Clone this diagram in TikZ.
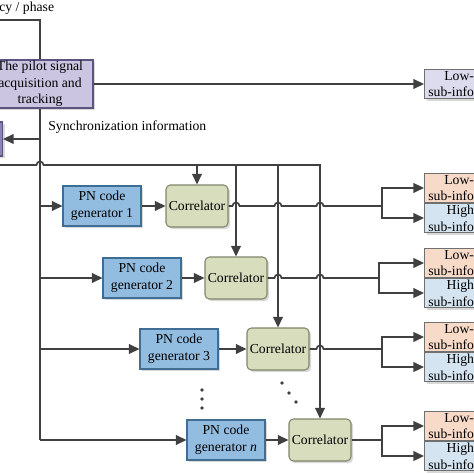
\documentclass[tikz,border=0pt]{standalone}
\usepackage{fontspec}
\setmainfont{Liberation Serif}
\usetikzlibrary{arrows.meta,shadows}

\definecolor{linec}{HTML}{404040}
\definecolor{pilotc}{HTML}{CBC5E2}
\definecolor{pilotd}{HTML}{5C5480}
\definecolor{lavc}{HTML}{DCDCEE}
\definecolor{syncc}{HTML}{8C84AC}
\definecolor{genc}{HTML}{93BDE0}
\definecolor{gend}{HTML}{3F6D94}
\definecolor{corrc}{HTML}{D7DDBD}
\definecolor{corrd}{HTML}{7F866A}
\definecolor{lowc}{HTML}{F7DAC8}
\definecolor{highc}{HTML}{D4E4F1}
\definecolor{boxd}{HTML}{707070}

\tikzset{
  wire/.style={draw=linec, line width=0.95pt},
  arr/.style={wire, -{Triangle[length=6pt,width=5.5pt]}},
  shade box/.style={line width=0.6pt, drop shadow={shadow xshift=1.2pt, shadow yshift=-1.2pt, opacity=0.3}},
  pilot/.style={shade box, draw=pilotd, fill=pilotc, minimum width=2.12cm, minimum height=0.96cm, align=center, inner sep=0pt},
  syncbox/.style={shade box, draw=pilotd, fill=syncc, minimum width=0.6cm, minimum height=0.68cm},
  gen/.style={shade box, draw=gend, fill=genc, minimum width=1.56cm, minimum height=0.8cm, align=center, inner sep=0pt},
  corr/.style={shade box, draw=corrd, fill=corrc, rounded corners=2.5pt, minimum width=1.24cm, minimum height=0.84cm, inner sep=0pt},
  subbox/.style={shade box, draw=boxd, text width=0.92cm, align=right, inner xsep=2pt, inner ysep=0.5pt, minimum height=0.58cm},
  lowbox/.style={subbox, fill=lowc},
  highbox/.style={subbox, fill=highc}
}

\begin{document}
\begin{tikzpicture}[x=0.02cm, y=-0.02cm, font=\fontsize{7.8}{9.5}\selectfont]
\useasboundingbox (0,0) rectangle (474,474);
\clip (0,0) rectangle (474,474);

% blocks
\node[pilot] (pilot) at (40,84) {The pilot signal\\acquisition and\\tracking};
\node[syncbox, anchor=east] (sync) at (3,139) {};
\node[subbox, fill=lavc, anchor=west] (lo0) at (424,84) {Low-\\sub-info};

\node[gen] (g1) at (102,206) {PN code\\generator 1};
\node[gen] (g2) at (142,278) {PN code\\generator 2};
\node[gen] (g3) at (179,349) {PN code\\generator 3};
\node[gen] (gn) at (226,440) {PN code\\generator \textit{n}};

\node[corr] (c1) at (197,206) {Correlator};
\node[corr] (c2) at (236,278) {Correlator};
\node[corr] (c3) at (278,349) {Correlator};
\node[corr] (cn) at (320,440) {Correlator};

\foreach \n/\y in {1/203, 2/278, 3/352, n/441} {
  \node[lowbox, anchor=south west] (lo\n) at (424,\y) {Low-\\sub-info};
  \node[highbox, anchor=north west] (hi\n) at (424,\y) {High\\sub-info};
}

% labels
\node[anchor=west, inner sep=0pt] (freq) at (-1,8) {cy / phase};
\node[anchor=west, inner sep=0pt] (syncl) at (48,127) {Synchronization information};

% connectors
\coordinate (fin) at (0,20);
\coordinate (bus) at (0,165);
\coordinate (s1) at (382,206);
\coordinate (s2) at (379,278);
\coordinate (s3) at (382,349);
\coordinate (sn) at (382,440);

\draw[wire] (fin) -| (pilot.north);
\draw[arr] (pilot.east) -- (lo0.west);
\draw[wire] (pilot.south) -- (pilot.south |- gn.west);
\draw[arr] (pilot.south |- sync.east) -- (sync.east);
\foreach \g in {g1,g2,g3,gn}
  \draw[arr] (pilot.south |- \g.west) -- (\g.west);
\foreach \g/\c in {g1/c1,g2/c2,g3/c3,gn/cn}
  \draw[arr] (\g.east) -- (\c.west);

\draw[arr] (bus) -- (36.5,165) arc (180:360:3.5) -- (cn.north |- bus) -- (cn.north);
\foreach \c in {c1,c2,c3}
  \draw[arr] (\c.north |- bus) -- (\c.north);

\draw[wire] (c1.east) -- (232.5,206) arc (180:360:3.5) -- (274.5,206) arc (180:360:3.5)
  -- (316.5,206) arc (180:360:3.5) -- (s1);
\draw[wire] (c2.east) -- (274.5,278) arc (180:360:3.5) -- (316.5,278) arc (180:360:3.5) -- (s2);
\draw[wire] (c3.east) -- (316.5,349) arc (180:360:3.5) -- (s3);
\draw[wire] (cn.east) -- (sn);
\foreach \n in {1,2,3,n} {
  \draw[arr] (s\n) |- (lo\n.west);
  \draw[arr] (s\n) |- (hi\n.west);
}

% dots
\foreach \y in {390,399,408}
  \fill[linec] (202,\y) circle (1pt);
\foreach \x/\y in {282/383, 289/393, 296/402}
  \fill[linec] (\x,\y) circle (1pt);
\end{tikzpicture}
\end{document}
